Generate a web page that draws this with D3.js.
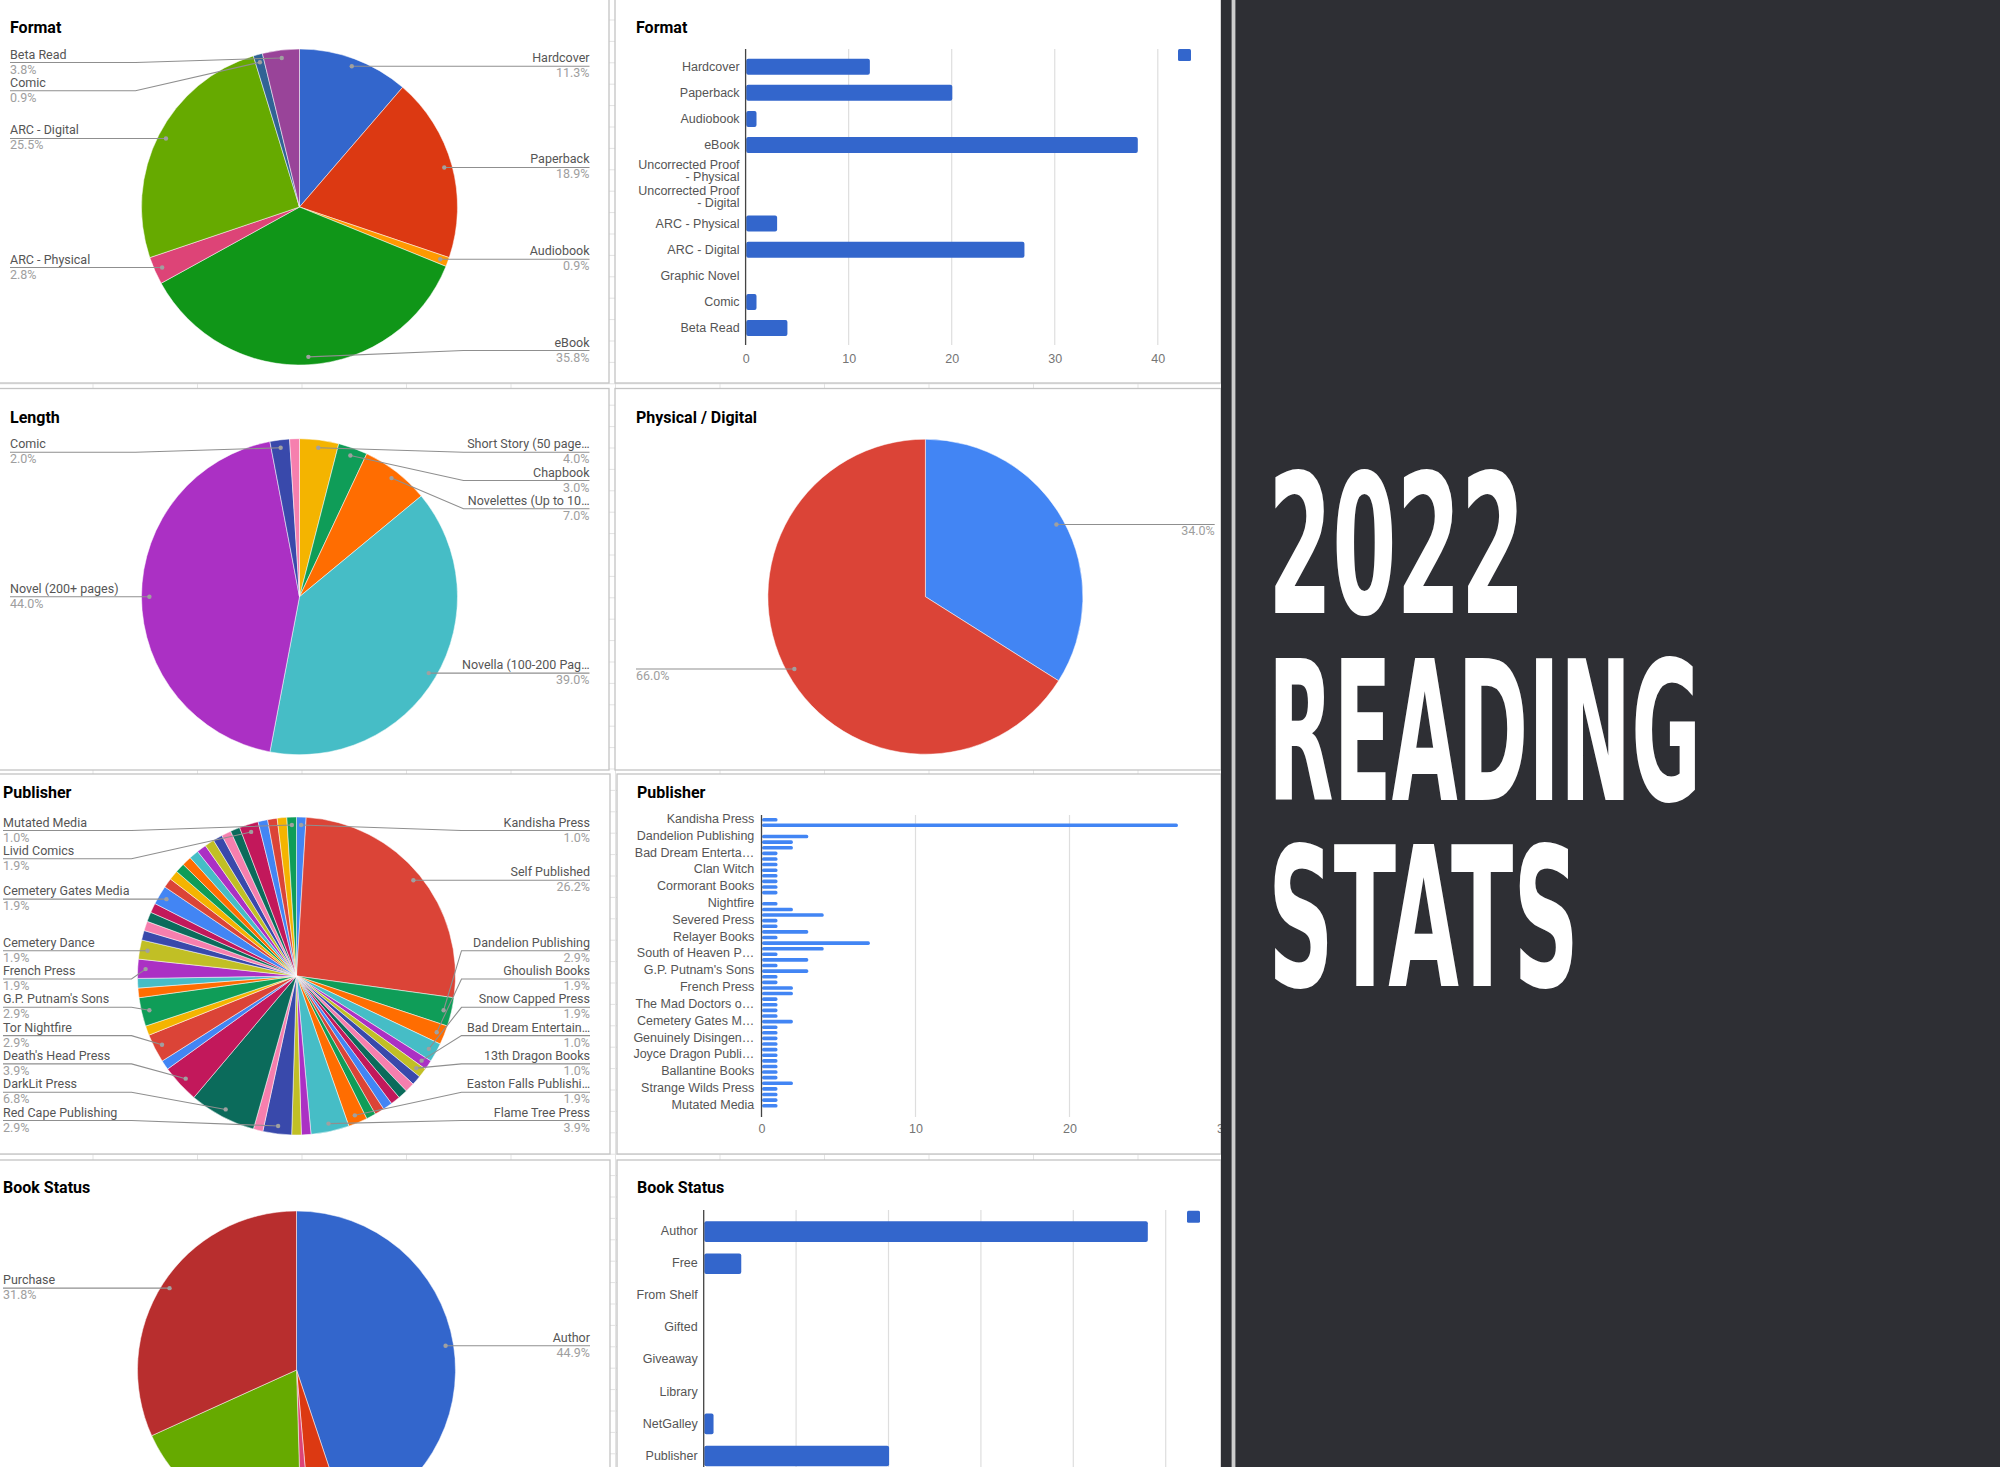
<!DOCTYPE html>
<html><head><meta charset="utf-8">
<script src="https://cdn.jsdelivr.net/npm/d3@7"></script>
<style>
html,body{margin:0;padding:0;background:#fff;overflow:hidden}
svg{display:block;font-family:Roboto,"Noto Sans",Arial,sans-serif}
</style></head><body>
<svg id="c" width="2000" height="1467"></svg>
<script>
// ---------------- DATA ----------------
const formatCategories = ["Hardcover","Paperback","Audiobook","eBook","Uncorrected Proof - Physical","Uncorrected Proof - Digital","ARC - Physical","ARC - Digital","Graphic Novel","Comic","Beta Read"];
const formatValues = [12,20,1,38,0,0,3,27,0,1,4];
const formatTicks = [0,10,20,30,40];

const lengthCategories = ["Short Story (50 page\u2026","Chapbook","Novelettes (Up to 10\u2026","Novella (100-200 Pag\u2026","Novel (200+ pages)","Comic",""];
const lengthValues = [4,3,7,39,44,2,1];

const mediumCategories = ["Physical","Digital"];
const mediumValues = [36,70];

const publisherNames = ["Kandisha Press","Self Published","","Dandelion Publishing","Ghoulish Books","Snow Capped Press","Bad Dream Entertainment","13th Dragon Books","","Clan Witch",
 "","","Cormorant Books","","","Nightfire","Easton Falls Publishing","Flame Tree Press","Severed Press","",
 "Red Cape Publishing","Relayer Books","DarkLit Press","Death's Head Press","South of Heaven Press","Tor Nightfire","","G.P. Putnam's Sons","","",
 "French Press","Cemetery Dance","","The Mad Doctors o\u2026","","","Cemetery Gates Media","","","Genuinely Disingenuous",
 "","","Joyce Dragon Publi\u2026","","","Ballantine Books","","Livid Comics","Strange Wilds Press","",
 "","Mutated Media"];
const publisherValues = [1,27,0,3,2,2,1,1,1,1, 1,1,1,1,0,1,2,4,1,1, 3,1,7,4,1,3,1,3,1,1, 2,2,1,1,1,1,2,1,1,1, 1,1,1,1,1,1,1,2,1,1, 1,1];
const publisherTicks = [0,10,20,30];

const statusCategories = ["Author","Free","From Shelf","Gifted","Giveaway","Library","NetGalley","Publisher","Purchase"];
const statusValues = [48,4,0,0,0,0,1,20,34];
const statusTicks = [0,10,20,30,40,50];

const titleLines = ["2022","READING","STATS"];

// ---------------- STYLE ----------------
const classic = ["#3366cc","#dc3912","#ff9900","#109618","#990099","#0099c6","#dd4477","#66aa00","#b82e2e","#316395","#994499"];
const sheets = ["#4285f4","#db4437","#f4b400","#0f9d58","#ff6d01","#46bdc6","#ab30c4","#c1bf25","#3949ab","#f67fae","#0b6b5b","#c2185b"];
const lengthColorIdx = [2,3,4,5,6,8,9];
const FS = 12.5;

const svg = d3.select("#c");

// spreadsheet background grid
const bg = svg.append("g");
for (let x = 93 - 104.5; x < 1230; x += 104.5)
  bg.append("line").attr("x1",x).attr("x2",x).attr("y1",0).attr("y2",1467).attr("stroke","#e3e3e3");
for (let y = 20; y < 1467; y += 21.4)
  bg.append("line").attr("x1",0).attr("x2",1230).attr("y1",y).attr("y2",y).attr("stroke","#e3e3e3");

// panels
const panels = [[-1,-1,610,384],[615,-1,606,384],[-1,388.5,610,381.5],[615,388.5,606,381.5],
  [-1,774,611,380],[617,774,604,380],[-1,1160,611,320],[617,1160,604,320]];
svg.append("g").selectAll("rect").data(panels).join("rect")
  .attr("x",d=>d[0]).attr("y",d=>d[1]).attr("width",d=>d[2]).attr("height",d=>d[3])
  .attr("fill","#fff").attr("stroke","#c4c4c4").attr("stroke-width",1.3);

function title(x,y,t){ svg.append("text").attr("x",x).attr("y",y).attr("font-size",16).attr("font-weight",700).attr("fill","#000").text(t); }

function fit(sel, maxW){
  sel.each(function(){
    const t = d3.select(this); let s = t.text();
    if (s.endsWith("\u2026") || this.getComputedTextLength() <= maxW) return;
    while (s.length > 1) { s = s.slice(0,-1).replace(/\s+$/,""); t.text(s+"\u2026"); if (this.getComputedTextLength() <= maxW) break; }
  });
}

// ---------------- PIE ----------------
function drawPie(o){
  const g = svg.append("g");
  const pie = d3.pie().sort(null).value(d=>d)(o.values);
  const arc = d3.arc().innerRadius(0).outerRadius(o.r);
  const total = d3.sum(o.values);
  g.append("g").attr("transform",`translate(${o.cx},${o.cy})`)
    .selectAll("path").data(pie.filter(d=>d.value>0)).join("path")
    .attr("d",arc).attr("fill",d=>o.colors[d.index]).attr("stroke","#fff").attr("stroke-width",0.5);
  const R = o.r*0.95;
  const labs = pie.filter(d=>d.value>0 && o.labelled(d.index)).map(d=>{
    const a=(d.startAngle+d.endAngle)/2;
    return {d,a,x:o.cx+R*Math.sin(a),y:o.cy-R*Math.cos(a),side:a<Math.PI?"R":"L"};
  });
  const top=o.cy-o.r+13.5, bot=o.cy+o.r-14.5, gap=28.3;
  ["R","L"].forEach(side=>{
    const arr=labs.filter(l=>l.side===side).sort((p,q)=>side==="R"?p.a-q.a:q.a-p.a);
    arr.forEach(l=>l.L=Math.max(top,Math.min(bot,l.y)));
    for(let i=1;i<arr.length;i++) arr[i].L=Math.max(arr[i].L,arr[i-1].L+gap);
    for(let i=arr.length-1;i>=0;i--){const lim=i===arr.length-1?bot:arr[i+1].L-gap; arr[i].L=Math.min(arr[i].L,lim);}
    for(let i=0;i<arr.length;i++){const lim=i===0?top:arr[i-1].L+gap; arr[i].L=Math.max(arr[i].L,lim);}
  });
  const line = d3.line();
  labs.forEach(l=>{
    const R_ = l.side==="R";
    const ex = R_?o.rightX:o.leftX, bx = R_?o.cx+o.r+6:o.cx-o.r-6;
    const pts = Math.abs(l.L-l.y)<1.2 ? [[ex,l.L],[l.x,l.y]] : [[ex,l.L],[bx,l.L],[l.x,l.y]];
    g.append("path").attr("d",line(pts)).attr("fill","none").attr("stroke","#8f8f8f").attr("stroke-width",1.1);
    g.append("circle").attr("cx",l.x).attr("cy",l.y).attr("r",2.2).attr("fill","#a0a0a0");
    if (o.showNames) {
      const t = g.append("text").attr("x",ex).attr("y",l.L-4).attr("font-size",FS).attr("fill","#555")
        .attr("text-anchor",R_?"end":"start").text(o.names[l.d.index]);
      fit(t, R_?125:140);
    }
    g.append("text").attr("x",ex).attr("y",l.L+11).attr("font-size",FS).attr("fill","#9e9e9e")
      .attr("text-anchor",R_?"end":"start").text((l.d.value/total*100).toFixed(1)+"%");
  });
}

// ---------------- BARS ----------------
function drawBars(o){
  const g = svg.append("g");
  const n = o.values.length;
  const x = d3.scaleLinear().domain([0,o.max]).range([o.x0,o.x0+o.max*o.unit]);
  const p = 1 - o.barH/o.step;
  const y = d3.scaleBand().domain(d3.range(n)).range([o.bandTop,o.bandTop+o.step*n]).paddingInner(p).paddingOuter(p/2);
  o.ticks.filter(t=>t>0).forEach(t=>{
    g.append("line").attr("x1",x(t)).attr("x2",x(t)).attr("y1",o.gridTop).attr("y2",o.gridBot).attr("stroke","#dedede").attr("stroke-width",1.2);
  });
  g.append("g").selectAll("rect").data(o.values.map((v,i)=>({v,i})).filter(d=>d.v>0)).join("rect")
    .attr("x",x(0)+0.6).attr("y",d=>y(d.i)).attr("width",d=>x(d.v)-x(0)).attr("height",y.bandwidth())
    .attr("rx",o.rx).attr("fill",o.color);
  g.append("line").attr("x1",x(0)).attr("x2",x(0)).attr("y1",o.gridTop).attr("y2",o.gridBot).attr("stroke","#444").attr("stroke-width",1.3);
  // x axis (tick labels only where they fall inside the picture)
  if (o.tickY < 1467) {
    const ax = g.append("g").attr("transform",`translate(0,${o.tickY})`)
      .call(d3.axisBottom(x).tickValues(o.ticks).tickSize(0).tickPadding(0).tickFormat(d3.format("d")));
    ax.select(".domain").remove();
    ax.selectAll("text").attr("y",0).attr("dy",0).attr("font-size",FS).attr("fill","#757575").attr("font-family",null);
  }
  // y axis
  const ay = g.append("g").attr("transform",`translate(${o.labelX},0)`)
    .call(d3.axisLeft(y).tickValues(o.labelIdx).tickSize(0).tickPadding(0).tickFormat(i=>o.names[i]));
  ay.select(".domain").remove();
  ay.selectAll("text").attr("dy",null).attr("y",o.labelDy).attr("font-size",FS).attr("fill","#555").attr("font-family",null);
  if (o.maxLabelW) fit(ay.selectAll("text"), o.maxLabelW);
  ay.selectAll("text").each(function(){
    if (this.getComputedTextLength() > 112 && this.textContent.includes(" - ")) {
      const s = this.textContent, k = s.indexOf(" - ");
      const t = d3.select(this).text(null).attr("y",0);
      t.append("tspan").attr("x",0).attr("dy",-2.4).text(s.slice(0,k));
      t.append("tspan").attr("x",0).attr("dy",12.4).text(s.slice(k+1));
    }
  });
  if (o.legend) g.append("rect").attr("x",o.legend[0]).attr("y",o.legend[1]).attr("width",13).attr("height",12).attr("rx",1.5).attr("fill",o.color);
}

// Row 1
title(10,33,"Format");
drawPie({cx:299.5,cy:207,r:158,values:formatValues,names:formatCategories,colors:classic,
  labelled:()=>true,showNames:true,leftX:10,rightX:589.5});
title(636,33,"Format");
drawBars({values:formatValues,names:formatCategories,max:40,x0:745.6,unit:10.305,ticks:formatTicks,
  gridTop:49,gridBot:345,bandTop:53.6,step:26.14,barH:16,rx:2,color:"#3366cc",labelX:739.6,labelDy:4.2,
  labelIdx:d3.range(formatValues.length),tickY:363,legend:[1178,49]});

// Row 2
title(10,423,"Length");
drawPie({cx:299.5,cy:596.7,r:158,values:lengthValues,names:lengthCategories,colors:lengthColorIdx.map(i=>sheets[i]),
  labelled:i=>lengthCategories[i]!=="",showNames:true,leftX:10,rightX:589.5});
title(636,423,"Physical / Digital");
drawPie({cx:925.4,cy:596.7,r:157.5,values:mediumValues,names:mediumCategories,colors:sheets,
  labelled:()=>true,showNames:false,leftX:636,rightX:1214.7});

// Row 3
title(3,798,"Publisher");
const pubPieLabelled = new Set([0,1,3,4,5,6,7,16,17,20,22,23,25,27,30,31,36,47,51]);
drawPie({cx:296.5,cy:976,r:159,values:publisherValues,names:publisherNames,colors:publisherValues.map((v,i)=>sheets[i%12]),
  labelled:i=>pubPieLabelled.has(i),showNames:true,leftX:3,rightX:590});
title(637,798,"Publisher");
drawBars({values:publisherValues,names:publisherNames,max:30,x0:761.5,unit:15.4,ticks:publisherTicks,
  gridTop:815,gridBot:1117,bandTop:816.9,step:5.608,barH:3.6,rx:1.6,color:"#4285f4",labelX:754.3,labelDy:3.2,
  labelIdx:d3.range(0,publisherValues.length,3),tickY:1133,maxLabelW:121});

// Row 4
title(3,1193,"Book Status");
drawPie({cx:296.5,cy:1370,r:159,values:statusValues,names:statusCategories,colors:classic,
  labelled:i=>i===0||i===8,showNames:true,leftX:3,rightX:590});
title(637,1193,"Book Status");
drawBars({values:statusValues,names:statusCategories,max:50,x0:703.7,unit:9.24,ticks:statusTicks,
  gridTop:1210,gridBot:1530,bandTop:1215.7,step:32.04,barH:20.7,rx:2,color:"#3366cc",labelX:697.7,labelDy:3.6,
  labelIdx:d3.range(statusValues.length),tickY:1530,legend:[1187,1210.7]});

// ---------------- DARK TITLE PANEL ----------------
svg.append("rect").attr("x",1221).attr("y",0).attr("width",779).attr("height",1467).attr("fill","#2e2f34");
svg.append("rect").attr("x",1231.6).attr("y",0).attr("width",3.8).attr("height",1467).attr("fill","#cdcdcd");
const tw = [257,433,311], tb = [613,800,986];
svg.append("g").selectAll("text").data(titleLines).join("text")
  .attr("x",1268).attr("y",(d,i)=>tb[i]).attr("textLength",(d,i)=>tw[i]).attr("lengthAdjust","spacingAndGlyphs")
  .attr("font-family","'Liberation Sans Narrow','DejaVu Sans Condensed','Arial Narrow',sans-serif")
  .attr("font-weight",700).attr("font-size",195).attr("fill","#fff").text(d=>d);
</script>
</body></html>
